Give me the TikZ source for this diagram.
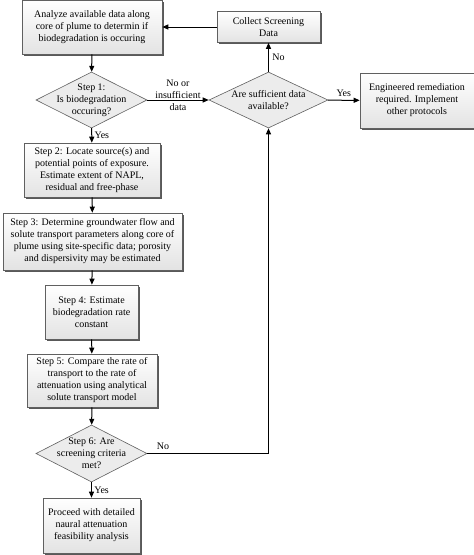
\documentclass[tikz,border=0pt]{standalone}
\usepackage{fontspec}
\setmainfont{Liberation Serif}
\usetikzlibrary{shapes.geometric,arrows.meta,shadows}
\tikzset{
  txt/.style={font=\fontsize{10}{12}\selectfont, align=center},
  stepbox/.style={txt, draw=gray!75!black, line width=0.6pt, top color=white, bottom color=gray!22,
    drop shadow={shadow xshift=1.6pt, shadow yshift=-1.6pt, fill=black!65, opacity=1}, inner sep=1pt},
  decision/.style={diamond, draw=gray!75!black, line width=0.6pt, fill=gray!15, inner sep=0pt},
  flow/.style={-{Triangle[length=6pt,width=5pt]}, line width=1pt}
}
\begin{document}
\begin{tikzpicture}[x=1pt,y=1pt]
                \useasboundingbox (0,0) rectangle (474,-555);
                % left column
                \node[stepbox, minimum width=140pt, minimum height=54pt] (analyze) at (92,-27) {Analyze available data along\\core of plume to determin if\\biodegradation is occuring};
                \node[decision, minimum width=111pt, minimum height=56pt, label={[txt]center:{Step 1:\\Is biodegradation\\occuring?}}] (step1) at (91.5,-100) {};
                \node[stepbox, minimum width=136pt, minimum height=54pt] (step2) at (92,-170) {Step 2: Locate source(s) and\\potential points of exposure.\\Estimate extent of NAPL,\\residual and free-phase};
                \node[stepbox, minimum width=179pt, minimum height=57pt] (step3) at (92.5,-241.5) {Step 3: Determine groundwater flow and\\solute transport parameters along core of\\plume using site-specific data; porosity\\and dispersivity may be estimated};
                \node[stepbox, minimum width=93pt, minimum height=54pt] (step4) at (91.5,-312) {Step 4: Estimate\\biodegradation rate\\constant};
                \node[stepbox, minimum width=130pt, minimum height=53pt] (step5) at (92,-380.5) {Step 5: Compare the rate of\\transport to the rate of\\attenuation using analytical\\solute transport model};
                \node[decision, minimum width=111pt, minimum height=57pt, label={[txt]center:{Step 6: Are\\screening criteria\\met?}}] (step6) at (91.5,-453.5) {};
                \node[stepbox, minimum width=97pt, minimum height=55pt] (proceed) at (91.5,-525.5) {Proceed with detailed\\naural attenuation\\feasibility analysis};
                % right side
                \node[stepbox, minimum width=103pt, minimum height=31pt] (collect) at (268.5,-27) {Collect Screening\\Data};
                \node[decision, minimum width=119pt, minimum height=56pt, label={[txt]center:{Are sufficient data\\available?}}] (enough) at (268.5,-100) {};
                \node[stepbox, minimum width=114pt, minimum height=55pt] (remedy) at (417,-100.5) {Engineered remediation\\required. Implement\\other protocols};
                \coordinate (turn) at (268.5,-453.5);
                % connectors
                \draw[flow] (analyze) -- (step1);
                \draw[flow] (step1) -- node[txt, right, xshift=-1pt] {Yes} (step2);
                \draw[flow] (step2) -- (step3);
                \draw[flow] (step3) -- (step4);
                \draw[flow] (step4) -- (step5);
                \draw[flow] (step5) -- (step6);
                \draw[flow] (step6) -- node[txt, right, xshift=-1pt] {Yes} (proceed);
                \draw[flow] (step1) -- node[txt, yshift=5pt] {No or\\insufficient\\data} (enough);
                \draw[flow] (enough) -- node[txt, right] {No} (collect);
                \draw[flow] (collect) -- (analyze);
                \draw[flow] (enough) -- node[txt, above] {Yes} (remedy);
                \draw[flow] (step6) -- node[txt, pos=0.13, above] {No} (turn) -- (enough);
            \end{tikzpicture}
\end{document}
